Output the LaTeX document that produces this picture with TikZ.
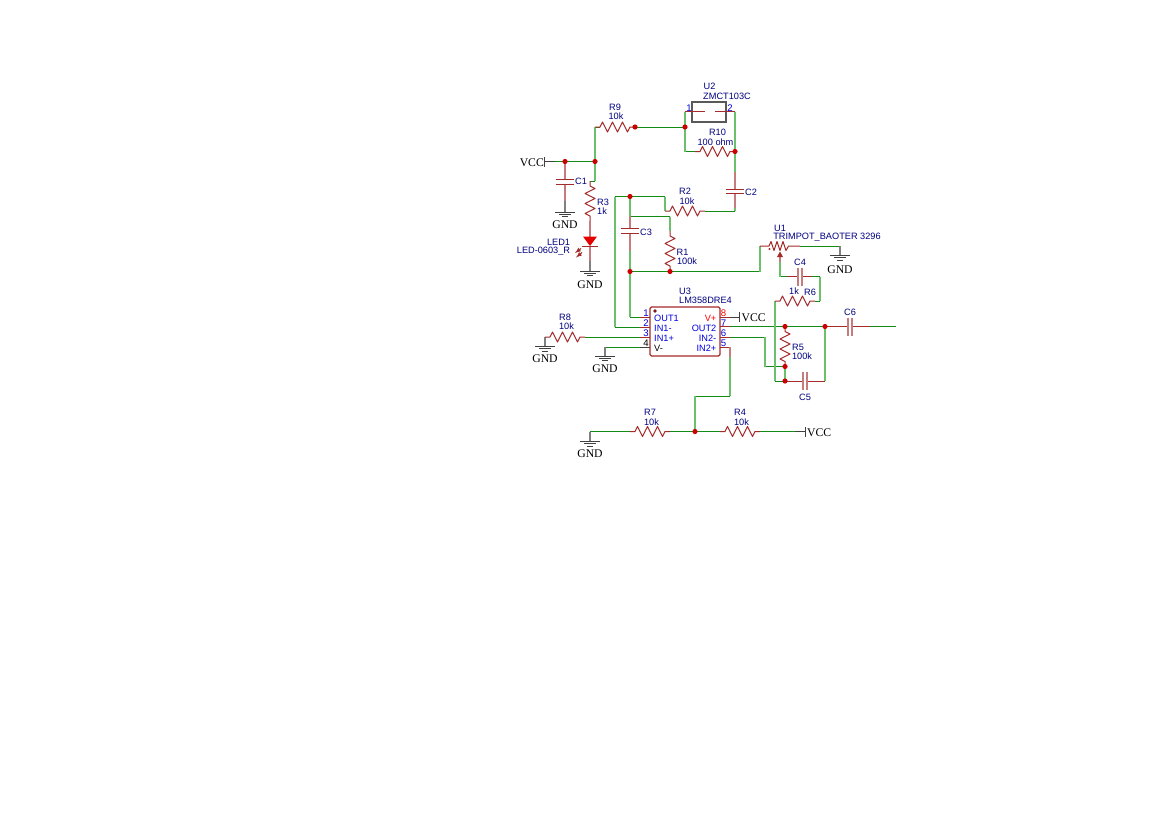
\documentclass[tikz,border=0pt]{standalone}
\usepackage{fontspec}
\setmainfont{Liberation Sans}
\newfontfamily\serifgnd{Liberation Serif}
\definecolor{wirec}{HTML}{128C12}
\definecolor{vwirec}{HTML}{6CC06C}
\definecolor{partc}{HTML}{A52A2A}
\definecolor{vpartc}{HTML}{C67C7C}
\definecolor{dotc}{HTML}{CC0000}
\definecolor{labc}{HTML}{000080}
\definecolor{pinc}{HTML}{0000E0}
\definecolor{gndc}{HTML}{808080}
\tikzset{
  wire/.style={draw=wirec,line width=1pt},
  vwire/.style={draw=vwirec,line width=2pt},
  part/.style={draw=partc,line width=1pt,line join=round},
  vpart/.style={draw=vpartc,line width=2pt},
  blk/.style={draw=black!75,line width=1pt},
  stem/.style={draw=gndc,line width=2pt},
  lab/.style={text=labc,inner sep=0pt,yshift=-0.5pt,font=\fontsize{9.2}{9}\selectfont},
  pinnum/.style={text=pinc,inner sep=0pt,yshift=-0.5pt,font=\fontsize{9.6}{9}\selectfont},
  pinname/.style={text=pinc,inner sep=0pt,yshift=-0.5pt,font=\fontsize{9.2}{9}\selectfont},
  net/.style={text=black,inner sep=0pt,font=\serifgnd\fontsize{11.7}{12}\selectfont},
  jn/.style={circle,fill=dotc,draw=none,inner sep=0pt,minimum size=5.2pt},
}
% horizontal resistor, 40 long, from named coordinate #1
\newcommand{\resH}[1]{\draw[part] (#1) -- ++(5,0) -- ++(2.5,-5) -- ++(5,10) -- ++(5,-10) -- ++(5,10) -- ++(5,-10) -- ++(5,10) -- ++(2.5,-5) -- ++(5,0);}
% vertical resistor, 40 long, from named coordinate #1
\newcommand{\resV}[1]{\draw[part] (#1) -- ++(0,5) -- ++(5,2.5) -- ++(-10,5) -- ++(10,5) -- ++(-10,5) -- ++(10,5) -- ++(-10,5) -- ++(5,2.5) -- ++(0,5);}
% ground symbol, top at named coordinate #1
\newcommand{\gnd}[1]{\draw[blk] ([xshift=-10pt]#1) -- ([xshift=10pt]#1); \draw[blk] ([xshift=-6pt,yshift=-2.4pt]#1) -- ([xshift=6pt,yshift=-2.4pt]#1); \draw[blk] ([xshift=-3pt,yshift=-4.8pt]#1) -- ([xshift=3pt,yshift=-4.8pt]#1);}
% horizontal capacitor at centre #1
\newcommand{\capH}[1]{\draw[vpart] ([xshift=-2pt,yshift=-9pt]#1) -- ([xshift=-2pt,yshift=9pt]#1); \draw[vpart] ([xshift=2pt,yshift=-9pt]#1) -- ([xshift=2pt,yshift=9pt]#1);}
\newcommand{\capV}[1]{\draw[part] ([xshift=-9pt,yshift=-2.2pt]#1) -- ([xshift=9pt,yshift=-2.2pt]#1); \draw[part] ([xshift=-9pt,yshift=2.2pt]#1) -- ([xshift=9pt,yshift=2.2pt]#1);}
\begin{document}
\begin{tikzpicture}[x=1pt,y=-1pt]
\fill[white] (0,0) rectangle (1169,827);
\useasboundingbox (0,0) rectangle (1169,827);
% junctions and terminals
\foreach \n/\p in {vccA/{544.5,161.5},jA/{565,161.5},jB/{595,161.5},c1c/{565,182},gA/{565,212},
  r9a/{595,127},r9b/{635,127},jC/{685,127},p1/{685,111.5},p2/{735,111.5},r10a/{695,151.5},r10l/{685,151.5},jD/{735,151.5},
  c2c/{735,191.5},c2t/{735,172},c2u/{735,208},c2b/{735,211},r2b/{705,211},r2a/{665,211},r2t/{665,196.5},jE/{630,196.5},l615/{615,196.5},
  l615b/{615,327},pin2o/{640,327},c3j/{630,216.5},r1t/{670,216.5},r1a/{670,231},jF/{670,271.5},jG/{630,271.5},
  c3c/{630,231},c3t/{630,216},c3b/{630,251},l630/{630,317},pin1o/{640,317},tA/{760,271.5},tB/{760,246},tC/{800,246},tD/{840,246},gB/{840,255.5},
  r3t/{590,181},r3s/{595,181},r3b/{590,221},gC/{590,271},gCt/{590,261},ledt/{590,236.5},ledb/{590,246},
  wip/{780,276.5},wipt/{780,262},c4c/{800,276.5},c4l/{787,276.5},c4rr/{812,276.5},c4r/{820,276.5},r6r/{820,301},r6e/{815,301},r6l/{775,301},l775/{775,381},
  p7o/{730,326.5},jH/{785,326.5},jI/{825,326.5},c6c/{850,326.5},c6o/{870,326.5},endM/{896,326.5},
  jJ/{785,366.5},jK/{785,381},c5c/{805,381},c5r/{825,381},
  p6o/{730,337},l765/{765,337},l765b/{765,366.5},
  p5o/{730,347},p5b/{730,357},lA/{730,396},lB/{695,396},jL/{695,431.5},r7a/{630,431.5},r7b/{670,431.5},r4b/{760,431.5},
  r4a/{720,431.5},vccC/{805,431.5},vccS/{795,431.5},gD0/{590,431.5},gD/{590,441.5},
  r8a/{545,337},r8b/{585,337},gE/{545,346.5},p3o/{640,337},pin4/{650,347},p4o/{640,347},v4/{605,347},gF/{605,356},
  p8o/{730,317},vccB/{739,317},gAt/{565,201}}
  {\coordinate (\n) at (\p);}
% horizontal wires
\draw[wire] (r9a) -- ++(5,0);
\draw[wire] ([xshift=10pt]vccA) -- (jA) -- (jB);
\draw[wire] (r9b) -- (jC);
\draw[wire] (p1) -- ++(7,0);
\draw[wire] (r10l) -- (r10a);
\draw[wire] (c2b) -- (r2b);
\draw[wire] (r2t) -- (jE) -- (l615);
\draw[wire] (l615b) -- (pin2o);
\draw[wire] (c3j) -- (r1t);
\draw[wire] (l630) -- (pin1o);
\draw[wire] (jG) -- (jF) -- (tA);
\draw[wire] (tC) -- (tD);
\draw[wire] (wip) -- (c4l);
\draw[wire] (c4rr) -- (c4r);
\draw[wire] (r6e) -- (r6r);
\draw[wire] (p7o) -- (jI);
\draw[wire] (c6o) -- (endM);
\draw[wire] (p6o) -- (l765);
\draw[wire] (l765b) -- (jJ);
\draw[wire] (lA) -- (lB);
\draw[wire] (gD0) -- (r7a);
\draw[wire] (r7b) -- (r4a);
\draw[wire] (r4b) -- (vccS);
\draw[wire] (r8b) -- (p3o);
\draw[wire] (v4) -- (p4o);
\draw[wire] (l775) -- (jK);
\draw[wire] (r3s) -- (r3t);
% vertical wires
\draw[vwire] (r9a) -- (r3s);
\draw[vwire] (p1) -- (r10l);
\draw[vwire] (p2) -- (c2t);
\draw[vwire] (c2u) -- (c2b);
\draw[vwire] (r2a) -- (r2t);
\draw[vwire] (l615) -- (l615b);
\draw[vwire] (jE) -- (c3t);
\draw[vwire] (r1t) -- (r1a);
\draw[vwire] (c3b) -- (l630);
\draw[vwire] (tA) -- (tB);
\draw[vwire] (wip) -- (wipt);
\draw[vwire] (c4r) -- (r6r);
\draw[vwire] (r6l) -- (l775);
\draw[vwire] (jJ) -- (jK);
\draw[vwire] (c5r) -- (jI);
\draw[vwire] (l765) -- (l765b);
\draw[vwire] (p5b) -- (lA);
\draw[vwire] (lB) -- (jL);
% black stubs and ground stems
\draw[blk] (vccA) -- ([xshift=10pt]vccA);
\draw[blk] ([yshift=-5pt]vccA) -- ([yshift=5pt]vccA);
\draw[blk] (vccS) -- (vccC);
\draw[blk] ([yshift=-5pt]vccC) -- ([yshift=5pt]vccC);
\draw[blk] (p8o) -- (vccB);
\draw[blk] ([yshift=-5pt]vccB) -- ([yshift=5pt]vccB);
\draw[blk] (p4o) -- (pin4);
\draw[stem] (gAt) -- (gA);
\draw[stem] (gCt) -- (gC);
\draw[stem] (tD) -- (gB);
\draw[stem] (gD0) -- (gD);
\draw[stem] (r8a) -- (gE);
\draw[stem] (v4) -- (gF);
\gnd{gA}\gnd{gB}\gnd{gC}\gnd{gD}\gnd{gE}\gnd{gF}
% resistors
\resH{r9a}
\resH{r10a}
\resH{r2a}
\resH{r6l}
\resH{r7a}
\resH{r4a}
\resH{r8a}
\resV{r3t}
\resV{r1a}
\resV{jH}
% capacitors
\draw[vpart] (jA) -- (565,179.8) (565,184.2) -- (gAt);
\capV{c1c}
\draw[vpart] (c2t) -- (735,189.3) (735,193.7) -- (c2u);
\capV{c2c}
\draw[vpart] (c3t) -- (630,228.8) (630,233.2) -- (c3b);
\capV{c3c}
\draw[part] (c4l) -- (798,276.5) (802,276.5) -- (c4rr);
\capH{c4c}
\draw[part] (jK) -- (803,381) (807,381) -- (c5r);
\capH{c5c}
\draw[part] (jI) -- (848,326.5) (852,326.5) -- (c6o);
\capH{c6c}
% LED
\draw[vpart] (r3b) -- (ledt);
\draw[vpart] (ledb) -- (gCt);
\fill[red!90!black] (583,236.5) -- (597,236.5) -- (590,246) -- cycle;
\draw[part] (582,246) -- (598,246);
\draw[draw=partc,line width=1pt,-latex] (581,248.5) -- (575,253);
\draw[draw=partc,line width=1pt,-latex] (582,252.5) -- (576,257.5);
% trimpot
\draw[part] (tB) -- (769,246) -- (771,241.5) -- (774,250.5) -- (777,241.5) -- (780,250.5) -- (783,241.5) -- (786,250.5) -- (788.5,246) -- (tC);
\fill[partc] (769.5,249) circle (1.1);
\draw[vpart] (wipt) -- (780,256);
\fill[partc] (780,251.5) -- (783,257) -- (777,257) -- cycle;
% U2
\draw[draw=black!65,line width=1.5pt] (692,102) rectangle (726,122);
\draw[part] (p1) -- (705,111.5);
\draw[part] (715,111.5) -- (p2);
% U3
\draw[draw=partc,line width=1.2pt,rounded corners=1.5pt,fill=white] (650,307) rectangle (720,356);
\fill[draw=none,fill=partc!70!black] (655,311) circle (1.8);
\draw[part] (640,317) -- (650,317) (640,327) -- (650,327) (640,337) -- (650,337);
\draw[part] (720,317) -- (p8o) (720,326.5) -- (p7o) (720,337) -- (p6o) (720,347) -- (p5o);
\draw[vpart] (p5o) -- (p5b);
% junction dots
\foreach \n in {jA,jB,r9b,jC,jD,jE,jF,jG,jH,jI,jJ,jK,jL}
  \node[jn] (d\n) at (\n) {};
% text
\node[net,anchor=east] (tvcc1) at (544,162.5) {VCC};
\node[net,anchor=west] (tvcc2) at (741.5,318) {VCC};
\node[net,anchor=west] (tvcc3) at (807,432.5) {VCC};
\node[net] (tg1) at (565,224.5) {GND};
\node[net] (tg2) at (590,284.5) {GND};
\node[net] (tg3) at (840,269.5) {GND};
\node[net] (tg4) at (590,454) {GND};
\node[net] (tg5) at (545,359) {GND};
\node[net] (tg6) at (605,369) {GND};
\node[lab] (t1) at (615,106.5) {R9};
\node[lab] (t2) at (616,115.5) {10k};
\node[lab] (t3) at (581,181) {C1};
\node[lab] (t4) at (709.5,86) {U2};
\node[lab] (t5) at (727,95.5) {ZMCT103C};
\node[pinnum] (t6) at (689,108) {1};
\node[pinnum] (t7) at (730,108) {2};
\node[lab] (t8) at (717.5,131.5) {R10};
\node[lab] (t9) at (715.5,142) {100 ohm};
\node[lab] (t10) at (751,191.5) {C2};
\node[lab] (t11) at (685,191) {R2};
\node[lab] (t12) at (687,201) {10k};
\node[lab] (t13) at (603,201.5) {R3};
\node[lab] (t14) at (602,211) {1k};
\node[lab] (t15) at (646,231.5) {C3};
\node[lab] (t16) at (682.5,251.5) {R1};
\node[lab] (t17) at (687,261) {100k};
\node[lab] (t18) at (558.5,241.5) {LED1};
\node[lab] (t19) at (543.5,251) {LED-0603\_R};
\node[lab] (t20) at (780,227.5) {U1};
\node[lab] (t21) at (827,236.5) {TRIMPOT\_BAOTER 3296};
\node[lab] (t22) at (800,262) {C4};
\node[lab] (t23) at (794,291) {1k};
\node[lab] (t24) at (810,291.5) {R6};
\node[lab] (t25) at (685,291) {U3};
\node[lab] (t26) at (705.5,300) {LM358DRE4};
\node[lab] (t27) at (850,311.5) {C6};
\node[lab] (t28) at (798,346.5) {R5};
\node[lab] (t29) at (802,356) {100k};
\node[lab] (t30) at (805,397) {C5};
\node[lab] (t31) at (565,316.5) {R8};
\node[lab] (t32) at (566.5,326) {10k};
\node[lab] (t33) at (650,412) {R7};
\node[lab] (t34) at (651.5,421.5) {10k};
\node[lab] (t35) at (740,412) {R4};
\node[lab] (t36) at (741.5,421.5) {10k};
% pins of U3
\node[pinnum] (n1) at (646,312.5) {1};
\node[pinnum] (n2) at (646,322.5) {2};
\node[pinnum] (n3) at (646,332.5) {3};
\node[pinnum,text=black] (n4) at (646,342.5) {4};
\node[pinnum,text=red] (n8) at (723.5,312.5) {8};
\node[pinnum] (n7) at (723.5,322.5) {7};
\node[pinnum] (n6) at (723.5,332.5) {6};
\node[pinnum] (n5) at (723.5,342.5) {5};
\node[pinname,anchor=west] (m1) at (654,317.5) {OUT1};
\node[pinname,anchor=west] (m2) at (654,327.5) {IN1-};
\node[pinname,anchor=west] (m3) at (654,337.5) {IN1+};
\node[pinname,anchor=west,text=black] (m4) at (654,347.5) {V-};
\node[pinname,anchor=east,text=red] (m8) at (716.5,317.5) {V+};
\node[pinname,anchor=east] (m7) at (716.5,327.5) {OUT2};
\node[pinname,anchor=east] (m6) at (716.5,337.5) {IN2-};
\node[pinname,anchor=east] (m5) at (716.5,347.5) {IN2+};
\end{tikzpicture}
\end{document}
